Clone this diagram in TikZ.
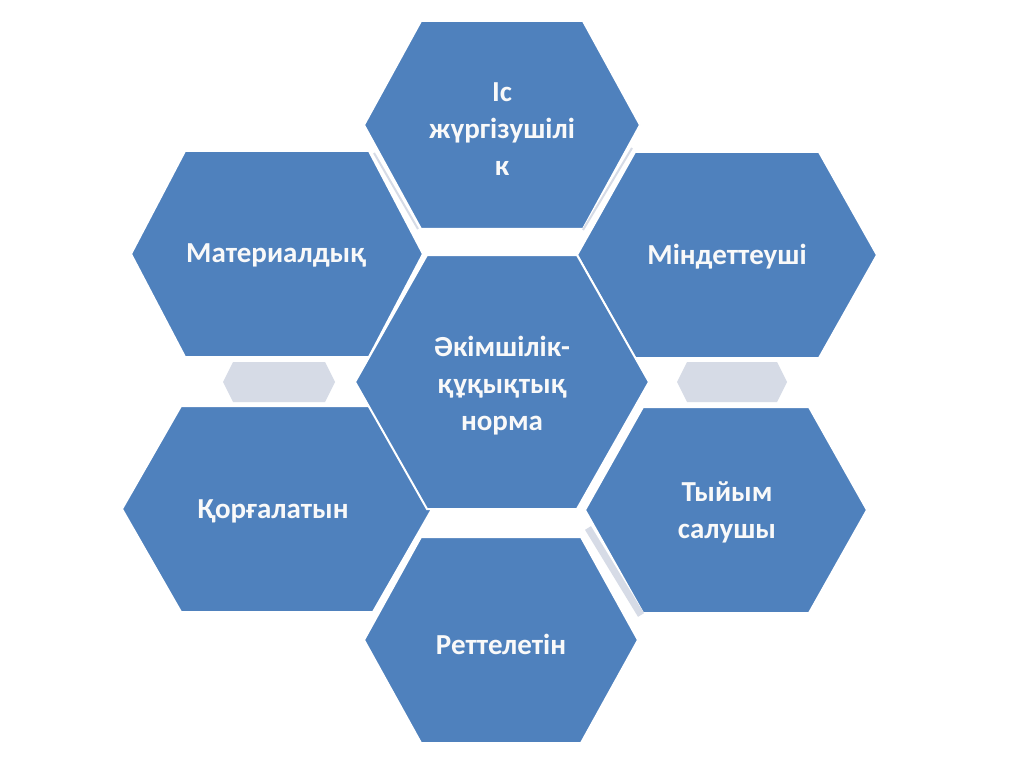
\documentclass[tikz,border=0pt]{standalone}
\usepackage{fontspec}
\setsansfont{Carlito}
\definecolor{hexblue}{RGB}{79,129,189}
\definecolor{hexgray}{RGB}{214,219,230}
% hexagon: [style]{cx}{cy}{half width}{half top edge}{half height}
\newcommand{\hexa}[6][hexcell]{%
  \path[#1] (#2-#4,#3) -- (#2-#5,#3-#6) -- (#2+#5,#3-#6) -- (#2+#4,#3)
    -- (#2+#5,#3+#6) -- (#2-#5,#3+#6) -- cycle;}

\begin{document}
\begin{tikzpicture}[x=1pt,y=-1pt,
    hexcell/.style={fill=hexblue,draw=white,line width=2pt},
    hexsmall/.style={fill=hexgray},
    seam/.style={draw=hexgray,line width=2pt},
    txt/.style={text=white!95!gray,align=center,font=\sffamily\bfseries\fontsize{29}{37}\selectfont}]
    \fill[white] (0,0) rectangle (1024,767);
    \useasboundingbox (0,0) rectangle (1024,767);

    % gray links
    \hexa[hexsmall]{279}{382}{56}{46}{20}
    \hexa[hexsmall]{732}{382}{55}{45}{20}

    % outer cells
    \hexa{502}{125}{138}{81}{104}
    \hexa{277}{254}{146}{92}{103}
    \hexa{727}{255}{150}{92}{103}
    \hexa{277}{509}{155}{96}{103}
    \hexa{726}{510}{141}{83}{103}
    \hexa{501}{640}{137}{80}{103}
    % centre cell
    \hexa{502}{382}{147}{75}{127}

    % seams
    \draw[seam] (374,153)--(418,229);
    \draw[seam] (632,148)--(583,230);
    \draw[hexgray,line width=7pt] (588,528)--(641,615);

    \node[txt] (isjur) at (502,129) {Іс\\жүргізушілі\\к};
    \node[txt] (mat) at (276,255) {Материалдық};
    \node[txt] (mind) at (727,257) {Міндеттеуші};
    \node[txt] (akim) at (502,386) {Әкімшілік-\\құқықтық\\норма};
    \node[txt] (qor) at (273,511) {Қорғалатын};
    \node[txt] (tyi) at (727,512) {Тыйым\\салушы};
    \node[txt] (ret) at (501,644) {Реттелетін};
\end{tikzpicture}
\end{document}
